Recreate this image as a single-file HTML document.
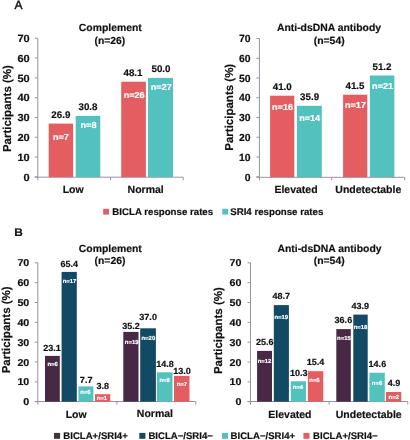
<!DOCTYPE html>
<html><head><meta charset="utf-8"><style>
html,body{margin:0;padding:0;background:#fff;width:410px;height:440px;overflow:hidden}
svg{display:block}
.w{will-change:transform;width:410px;height:440px}
text{font-family:"Liberation Sans",sans-serif;font-weight:bold;text-rendering:geometricPrecision;stroke-width:0.18px}
</style></head><body>
<div class="w"><svg width="410" height="440" viewBox="0 0 410 440">
<text x="18.6" y="9.2" font-size="12.0" text-anchor="middle" fill="#111" stroke="#111" style="font-weight:normal;stroke-width:0.45px">A</text>
<line x1="37.80" y1="38.30" x2="37.80" y2="180.20" stroke="#9a92a2" stroke-width="1"/>
<line x1="34.80" y1="177.20" x2="183.20" y2="177.20" stroke="#9a92a2" stroke-width="1"/>
<line x1="34.80" y1="176.80" x2="37.80" y2="176.80" stroke="#9a92a2" stroke-width="1"/>
<text transform="translate(29.70,180.52) scale(1.06,1)" font-size="10.4" text-anchor="end" fill="#111111" stroke="#111111" >0</text>
<line x1="34.80" y1="157.01" x2="37.80" y2="157.01" stroke="#9a92a2" stroke-width="1"/>
<text transform="translate(29.70,160.74) scale(1.06,1)" font-size="10.4" text-anchor="end" fill="#111111" stroke="#111111" >10</text>
<line x1="34.80" y1="137.23" x2="37.80" y2="137.23" stroke="#9a92a2" stroke-width="1"/>
<text transform="translate(29.70,140.95) scale(1.06,1)" font-size="10.4" text-anchor="end" fill="#111111" stroke="#111111" >20</text>
<line x1="34.80" y1="117.44" x2="37.80" y2="117.44" stroke="#9a92a2" stroke-width="1"/>
<text transform="translate(29.70,121.17) scale(1.06,1)" font-size="10.4" text-anchor="end" fill="#111111" stroke="#111111" >30</text>
<line x1="34.80" y1="97.66" x2="37.80" y2="97.66" stroke="#9a92a2" stroke-width="1"/>
<text transform="translate(29.70,101.38) scale(1.06,1)" font-size="10.4" text-anchor="end" fill="#111111" stroke="#111111" >40</text>
<line x1="34.80" y1="77.87" x2="37.80" y2="77.87" stroke="#9a92a2" stroke-width="1"/>
<text transform="translate(29.70,81.59) scale(1.06,1)" font-size="10.4" text-anchor="end" fill="#111111" stroke="#111111" >50</text>
<line x1="34.80" y1="58.09" x2="37.80" y2="58.09" stroke="#9a92a2" stroke-width="1"/>
<text transform="translate(29.70,61.81) scale(1.06,1)" font-size="10.4" text-anchor="end" fill="#111111" stroke="#111111" >60</text>
<line x1="34.80" y1="38.30" x2="37.80" y2="38.30" stroke="#9a92a2" stroke-width="1"/>
<text transform="translate(29.70,42.02) scale(1.06,1)" font-size="10.4" text-anchor="end" fill="#111111" stroke="#111111" >70</text>
<line x1="110.60" y1="177.20" x2="110.60" y2="180.20" stroke="#9a92a2" stroke-width="1"/>
<line x1="183.20" y1="177.20" x2="183.20" y2="180.20" stroke="#9a92a2" stroke-width="1"/>
<text x="0" y="0" font-size="11.5" text-anchor="middle" fill="#111111" stroke="#111111" transform="translate(11.00,108.60) rotate(-90)">Participants (%)</text>
<rect x="48.70" y="123.60" width="24.40" height="53.60" fill="#e45e61"/>
<rect x="75.70" y="115.90" width="24.60" height="61.30" fill="#53c2be"/>
<rect x="121.20" y="81.70" width="24.70" height="95.50" fill="#e45e61"/>
<rect x="148.00" y="77.90" width="25.00" height="99.30" fill="#53c2be"/>
<text transform="translate(60.85,117.90) scale(1.02,1)" font-size="9.6" text-anchor="middle" fill="#111111" stroke="#111111" >26.9</text>
<text transform="translate(88.00,109.90) scale(1.02,1)" font-size="9.6" text-anchor="middle" fill="#111111" stroke="#111111" >30.8</text>
<text transform="translate(133.00,75.80) scale(1.02,1)" font-size="9.6" text-anchor="middle" fill="#111111" stroke="#111111" >48.1</text>
<text transform="translate(161.00,72.10) scale(1.02,1)" font-size="9.6" text-anchor="middle" fill="#111111" stroke="#111111" >50.0</text>
<text transform="translate(60.90,139.90) scale(1.05,1)" font-size="8.7" text-anchor="middle" fill="#fff" stroke="#fff" >n=7</text>
<text transform="translate(88.50,128.10) scale(1.05,1)" font-size="8.7" text-anchor="middle" fill="#fff" stroke="#fff" >n=8</text>
<text transform="translate(134.15,98.40) scale(1.05,1)" font-size="8.7" text-anchor="middle" fill="#fff" stroke="#fff" >n=26</text>
<text transform="translate(161.30,90.30) scale(1.05,1)" font-size="8.7" text-anchor="middle" fill="#fff" stroke="#fff" >n=27</text>
<text x="110.30" y="30.80" font-size="10.4" text-anchor="middle" fill="#111111" stroke="#111111" >Complement</text>
<text x="109.90" y="43.50" font-size="10.4" text-anchor="middle" fill="#111111" stroke="#111111" >(n=26)</text>
<text x="73.20" y="192.90" font-size="10.5" text-anchor="middle" fill="#111111" stroke="#111111" >Low</text>
<text x="145.70" y="192.90" font-size="10.5" text-anchor="middle" fill="#111111" stroke="#111111" >Normal</text>
<line x1="259.40" y1="38.50" x2="259.40" y2="180.30" stroke="#9a92a2" stroke-width="1"/>
<line x1="256.40" y1="177.30" x2="404.70" y2="177.30" stroke="#9a92a2" stroke-width="1"/>
<line x1="256.40" y1="176.80" x2="259.40" y2="176.80" stroke="#9a92a2" stroke-width="1"/>
<text x="250.50" y="180.52" font-size="10.4" text-anchor="end" fill="#111111" stroke="#111111" >0</text>
<line x1="256.40" y1="157.04" x2="259.40" y2="157.04" stroke="#9a92a2" stroke-width="1"/>
<text x="250.50" y="160.77" font-size="10.4" text-anchor="end" fill="#111111" stroke="#111111" >10</text>
<line x1="256.40" y1="137.29" x2="259.40" y2="137.29" stroke="#9a92a2" stroke-width="1"/>
<text x="250.50" y="141.01" font-size="10.4" text-anchor="end" fill="#111111" stroke="#111111" >20</text>
<line x1="256.40" y1="117.53" x2="259.40" y2="117.53" stroke="#9a92a2" stroke-width="1"/>
<text x="250.50" y="121.25" font-size="10.4" text-anchor="end" fill="#111111" stroke="#111111" >30</text>
<line x1="256.40" y1="97.77" x2="259.40" y2="97.77" stroke="#9a92a2" stroke-width="1"/>
<text x="250.50" y="101.49" font-size="10.4" text-anchor="end" fill="#111111" stroke="#111111" >40</text>
<line x1="256.40" y1="78.01" x2="259.40" y2="78.01" stroke="#9a92a2" stroke-width="1"/>
<text x="250.50" y="81.74" font-size="10.4" text-anchor="end" fill="#111111" stroke="#111111" >50</text>
<line x1="256.40" y1="58.26" x2="259.40" y2="58.26" stroke="#9a92a2" stroke-width="1"/>
<text x="250.50" y="61.98" font-size="10.4" text-anchor="end" fill="#111111" stroke="#111111" >60</text>
<line x1="256.40" y1="38.50" x2="259.40" y2="38.50" stroke="#9a92a2" stroke-width="1"/>
<text x="250.50" y="42.22" font-size="10.4" text-anchor="end" fill="#111111" stroke="#111111" >70</text>
<line x1="331.70" y1="177.30" x2="331.70" y2="180.30" stroke="#9a92a2" stroke-width="1"/>
<line x1="404.70" y1="177.30" x2="404.70" y2="180.30" stroke="#9a92a2" stroke-width="1"/>
<text x="0" y="0" font-size="11.5" text-anchor="middle" fill="#111111" stroke="#111111" transform="translate(232.80,107.25) rotate(-90)">Participants (%)</text>
<rect x="270.10" y="95.70" width="24.20" height="81.50" fill="#e45e61"/>
<rect x="296.90" y="105.80" width="24.90" height="71.40" fill="#53c2be"/>
<rect x="343.10" y="94.70" width="24.20" height="82.50" fill="#e45e61"/>
<rect x="369.90" y="75.50" width="24.50" height="101.70" fill="#53c2be"/>
<text transform="translate(282.25,89.60) scale(1.02,1)" font-size="9.6" text-anchor="middle" fill="#111111" stroke="#111111" >41.0</text>
<text transform="translate(309.65,99.60) scale(1.02,1)" font-size="9.6" text-anchor="middle" fill="#111111" stroke="#111111" >35.9</text>
<text transform="translate(355.00,88.70) scale(1.02,1)" font-size="9.6" text-anchor="middle" fill="#111111" stroke="#111111" >41.5</text>
<text transform="translate(382.00,69.90) scale(1.02,1)" font-size="9.6" text-anchor="middle" fill="#111111" stroke="#111111" >51.2</text>
<text transform="translate(282.55,110.40) scale(1.05,1)" font-size="8.7" text-anchor="middle" fill="#fff" stroke="#fff" >n=16</text>
<text transform="translate(309.65,121.10) scale(1.05,1)" font-size="8.7" text-anchor="middle" fill="#fff" stroke="#fff" >n=14</text>
<text transform="translate(355.40,107.70) scale(1.05,1)" font-size="8.7" text-anchor="middle" fill="#fff" stroke="#fff" >n=17</text>
<text transform="translate(382.60,89.40) scale(1.05,1)" font-size="8.7" text-anchor="middle" fill="#fff" stroke="#fff" >n=21</text>
<text x="329.00" y="30.80" font-size="10.4" text-anchor="middle" fill="#111111" stroke="#111111" >Anti-dsDNA antibody</text>
<text x="329.20" y="43.50" font-size="10.4" text-anchor="middle" fill="#111111" stroke="#111111" >(n=54)</text>
<text x="296.00" y="192.80" font-size="10.5" text-anchor="middle" fill="#111111" stroke="#111111" >Elevated</text>
<text x="368.30" y="192.80" font-size="10.5" text-anchor="middle" fill="#111111" stroke="#111111" >Undetectable</text>
<rect x="103.20" y="208.80" width="5.80" height="5.80" fill="#e45e61"/>
<text x="112.30" y="215.20" font-size="9.7" text-anchor="start" fill="#111111" stroke="#111111" >BICLA response rates</text>
<rect x="222.30" y="208.80" width="5.80" height="5.80" fill="#53c2be"/>
<text x="230.20" y="215.20" font-size="9.7" text-anchor="start" fill="#111111" stroke="#111111" >SRI4 response rates</text>
<text transform="translate(18.50,236.10) scale(1.08,1)" font-size="11.0" text-anchor="middle" fill="#111111" stroke="#111111" >B</text>
<line x1="37.80" y1="262.80" x2="37.80" y2="404.50" stroke="#9a92a2" stroke-width="1"/>
<line x1="34.80" y1="401.50" x2="195.80" y2="401.50" stroke="#9a92a2" stroke-width="1"/>
<line x1="34.80" y1="401.70" x2="37.80" y2="401.70" stroke="#9a92a2" stroke-width="1"/>
<text transform="translate(29.30,405.28) scale(1.07,1)" font-size="10.0" text-anchor="end" fill="#111111" stroke="#111111" >0</text>
<line x1="34.80" y1="381.86" x2="37.80" y2="381.86" stroke="#9a92a2" stroke-width="1"/>
<text transform="translate(29.30,385.44) scale(1.07,1)" font-size="10.0" text-anchor="end" fill="#111111" stroke="#111111" >10</text>
<line x1="34.80" y1="362.01" x2="37.80" y2="362.01" stroke="#9a92a2" stroke-width="1"/>
<text transform="translate(29.30,365.59) scale(1.07,1)" font-size="10.0" text-anchor="end" fill="#111111" stroke="#111111" >20</text>
<line x1="34.80" y1="342.17" x2="37.80" y2="342.17" stroke="#9a92a2" stroke-width="1"/>
<text transform="translate(29.30,345.75) scale(1.07,1)" font-size="10.0" text-anchor="end" fill="#111111" stroke="#111111" >30</text>
<line x1="34.80" y1="322.33" x2="37.80" y2="322.33" stroke="#9a92a2" stroke-width="1"/>
<text transform="translate(29.30,325.91) scale(1.07,1)" font-size="10.0" text-anchor="end" fill="#111111" stroke="#111111" >40</text>
<line x1="34.80" y1="302.49" x2="37.80" y2="302.49" stroke="#9a92a2" stroke-width="1"/>
<text transform="translate(29.30,306.07) scale(1.07,1)" font-size="10.0" text-anchor="end" fill="#111111" stroke="#111111" >50</text>
<line x1="34.80" y1="282.64" x2="37.80" y2="282.64" stroke="#9a92a2" stroke-width="1"/>
<text transform="translate(29.30,286.22) scale(1.07,1)" font-size="10.0" text-anchor="end" fill="#111111" stroke="#111111" >60</text>
<line x1="34.80" y1="262.80" x2="37.80" y2="262.80" stroke="#9a92a2" stroke-width="1"/>
<text transform="translate(29.30,266.38) scale(1.07,1)" font-size="10.0" text-anchor="end" fill="#111111" stroke="#111111" >70</text>
<line x1="116.90" y1="401.50" x2="116.90" y2="404.50" stroke="#9a92a2" stroke-width="1"/>
<line x1="195.80" y1="401.50" x2="195.80" y2="404.50" stroke="#9a92a2" stroke-width="1"/>
<text x="0" y="0" font-size="11.5" text-anchor="middle" fill="#111111" stroke="#111111" transform="translate(9.70,329.85) rotate(-90)">Participants (%)</text>
<rect x="45.00" y="355.90" width="14.80" height="45.80" fill="#472845"/>
<rect x="61.60" y="271.90" width="15.20" height="129.80" fill="#124a66"/>
<rect x="78.50" y="386.40" width="14.90" height="15.30" fill="#53c2be"/>
<rect x="95.00" y="394.20" width="15.20" height="7.50" fill="#e45e61"/>
<rect x="123.30" y="331.90" width="15.20" height="69.80" fill="#472845"/>
<rect x="140.20" y="328.30" width="15.70" height="73.40" fill="#124a66"/>
<rect x="157.00" y="372.30" width="15.50" height="29.40" fill="#53c2be"/>
<rect x="174.00" y="375.90" width="15.50" height="25.80" fill="#e45e61"/>
<text transform="translate(52.00,350.90) scale(1.03,1)" font-size="8.8" text-anchor="middle" fill="#111111" stroke="#111111" >23.1</text>
<text transform="translate(69.20,266.50) scale(1.03,1)" font-size="8.8" text-anchor="middle" fill="#111111" stroke="#111111" >65.4</text>
<text transform="translate(86.15,382.70) scale(1.03,1)" font-size="8.8" text-anchor="middle" fill="#111111" stroke="#111111" >7.7</text>
<text transform="translate(102.85,388.70) scale(1.03,1)" font-size="8.8" text-anchor="middle" fill="#111111" stroke="#111111" >3.8</text>
<text transform="translate(131.00,328.70) scale(1.03,1)" font-size="8.8" text-anchor="middle" fill="#111111" stroke="#111111" >35.2</text>
<text transform="translate(148.10,320.10) scale(1.03,1)" font-size="8.8" text-anchor="middle" fill="#111111" stroke="#111111" >37.0</text>
<text transform="translate(165.00,366.50) scale(1.03,1)" font-size="8.8" text-anchor="middle" fill="#111111" stroke="#111111" >14.8</text>
<text transform="translate(182.00,373.90) scale(1.03,1)" font-size="8.8" text-anchor="middle" fill="#111111" stroke="#111111" >13.0</text>
<text transform="translate(52.65,365.90) scale(1.02,1)" font-size="5.85" text-anchor="middle" fill="#fff" stroke="#fff" >n=6</text>
<text transform="translate(69.50,282.50) scale(1.02,1)" font-size="5.85" text-anchor="middle" fill="#fff" stroke="#fff" >n=17</text>
<text transform="translate(85.35,394.40) scale(1.02,1)" font-size="5.85" text-anchor="middle" fill="#fff" stroke="#fff" >n=6</text>
<text transform="translate(101.85,399.80) scale(1.02,1)" font-size="5.85" text-anchor="middle" fill="#fff" stroke="#fff" >n=1</text>
<text transform="translate(131.70,344.10) scale(1.02,1)" font-size="5.85" text-anchor="middle" fill="#fff" stroke="#fff" >n=19</text>
<text transform="translate(148.35,339.90) scale(1.02,1)" font-size="5.85" text-anchor="middle" fill="#fff" stroke="#fff" >n=20</text>
<text transform="translate(164.60,382.10) scale(1.02,1)" font-size="5.85" text-anchor="middle" fill="#fff" stroke="#fff" >n=8</text>
<text transform="translate(181.90,386.00) scale(1.02,1)" font-size="5.85" text-anchor="middle" fill="#fff" stroke="#fff" >n=7</text>
<text x="110.30" y="251.50" font-size="10.4" text-anchor="middle" fill="#111111" stroke="#111111" >Complement</text>
<text x="110.00" y="264.20" font-size="10.4" text-anchor="middle" fill="#111111" stroke="#111111" >(n=26)</text>
<text x="76.20" y="417.60" font-size="10.5" text-anchor="middle" fill="#111111" stroke="#111111" >Low</text>
<text x="154.90" y="417.40" font-size="10.5" text-anchor="middle" fill="#111111" stroke="#111111" >Normal</text>
<line x1="250.50" y1="262.80" x2="250.50" y2="404.50" stroke="#9a92a2" stroke-width="1"/>
<line x1="247.50" y1="401.50" x2="407.80" y2="401.50" stroke="#9a92a2" stroke-width="1"/>
<line x1="247.50" y1="401.70" x2="250.50" y2="401.70" stroke="#9a92a2" stroke-width="1"/>
<text transform="translate(241.40,405.28) scale(1.07,1)" font-size="10.0" text-anchor="end" fill="#111111" stroke="#111111" >0</text>
<line x1="247.50" y1="381.86" x2="250.50" y2="381.86" stroke="#9a92a2" stroke-width="1"/>
<text transform="translate(241.40,385.44) scale(1.07,1)" font-size="10.0" text-anchor="end" fill="#111111" stroke="#111111" >10</text>
<line x1="247.50" y1="362.01" x2="250.50" y2="362.01" stroke="#9a92a2" stroke-width="1"/>
<text transform="translate(241.40,365.59) scale(1.07,1)" font-size="10.0" text-anchor="end" fill="#111111" stroke="#111111" >20</text>
<line x1="247.50" y1="342.17" x2="250.50" y2="342.17" stroke="#9a92a2" stroke-width="1"/>
<text transform="translate(241.40,345.75) scale(1.07,1)" font-size="10.0" text-anchor="end" fill="#111111" stroke="#111111" >30</text>
<line x1="247.50" y1="322.33" x2="250.50" y2="322.33" stroke="#9a92a2" stroke-width="1"/>
<text transform="translate(241.40,325.91) scale(1.07,1)" font-size="10.0" text-anchor="end" fill="#111111" stroke="#111111" >40</text>
<line x1="247.50" y1="302.49" x2="250.50" y2="302.49" stroke="#9a92a2" stroke-width="1"/>
<text transform="translate(241.40,306.07) scale(1.07,1)" font-size="10.0" text-anchor="end" fill="#111111" stroke="#111111" >50</text>
<line x1="247.50" y1="282.64" x2="250.50" y2="282.64" stroke="#9a92a2" stroke-width="1"/>
<text transform="translate(241.40,286.22) scale(1.07,1)" font-size="10.0" text-anchor="end" fill="#111111" stroke="#111111" >60</text>
<line x1="247.50" y1="262.80" x2="250.50" y2="262.80" stroke="#9a92a2" stroke-width="1"/>
<text transform="translate(241.40,266.38) scale(1.07,1)" font-size="10.0" text-anchor="end" fill="#111111" stroke="#111111" >70</text>
<line x1="329.10" y1="401.50" x2="329.10" y2="404.50" stroke="#9a92a2" stroke-width="1"/>
<line x1="407.80" y1="401.50" x2="407.80" y2="404.50" stroke="#9a92a2" stroke-width="1"/>
<text x="0" y="0" font-size="11.5" text-anchor="middle" fill="#111111" stroke="#111111" transform="translate(222.10,330.65) rotate(-90)">Participants (%)</text>
<rect x="257.10" y="350.90" width="14.90" height="50.80" fill="#472845"/>
<rect x="273.80" y="305.10" width="15.10" height="96.60" fill="#124a66"/>
<rect x="290.80" y="381.30" width="15.20" height="20.40" fill="#53c2be"/>
<rect x="307.90" y="371.20" width="15.40" height="30.50" fill="#e45e61"/>
<rect x="336.30" y="329.10" width="14.50" height="72.60" fill="#472845"/>
<rect x="353.30" y="314.60" width="14.40" height="87.10" fill="#124a66"/>
<rect x="369.40" y="372.70" width="15.40" height="29.00" fill="#53c2be"/>
<rect x="385.90" y="392.00" width="15.40" height="9.70" fill="#e45e61"/>
<text transform="translate(264.75,344.90) scale(1.03,1)" font-size="8.8" text-anchor="middle" fill="#111111" stroke="#111111" >25.6</text>
<text transform="translate(281.30,299.00) scale(1.03,1)" font-size="8.8" text-anchor="middle" fill="#111111" stroke="#111111" >48.7</text>
<text transform="translate(298.80,375.60) scale(1.03,1)" font-size="8.8" text-anchor="middle" fill="#111111" stroke="#111111" >10.3</text>
<text transform="translate(315.55,365.30) scale(1.03,1)" font-size="8.8" text-anchor="middle" fill="#111111" stroke="#111111" >15.4</text>
<text transform="translate(343.35,323.40) scale(1.03,1)" font-size="8.8" text-anchor="middle" fill="#111111" stroke="#111111" >36.6</text>
<text transform="translate(360.20,308.70) scale(1.03,1)" font-size="8.8" text-anchor="middle" fill="#111111" stroke="#111111" >43.9</text>
<text transform="translate(377.35,367.10) scale(1.03,1)" font-size="8.8" text-anchor="middle" fill="#111111" stroke="#111111" >14.6</text>
<text transform="translate(394.10,386.30) scale(1.03,1)" font-size="8.8" text-anchor="middle" fill="#111111" stroke="#111111" >4.9</text>
<text transform="translate(264.50,362.60) scale(1.02,1)" font-size="5.85" text-anchor="middle" fill="#fff" stroke="#fff" >n=12</text>
<text transform="translate(281.25,319.10) scale(1.02,1)" font-size="5.85" text-anchor="middle" fill="#fff" stroke="#fff" >n=19</text>
<text transform="translate(297.90,389.40) scale(1.02,1)" font-size="5.85" text-anchor="middle" fill="#fff" stroke="#fff" >n=4</text>
<text transform="translate(314.45,381.50) scale(1.02,1)" font-size="5.85" text-anchor="middle" fill="#fff" stroke="#fff" >n=6</text>
<text transform="translate(343.95,339.70) scale(1.02,1)" font-size="5.85" text-anchor="middle" fill="#fff" stroke="#fff" >n=15</text>
<text transform="translate(360.50,328.90) scale(1.02,1)" font-size="5.85" text-anchor="middle" fill="#fff" stroke="#fff" >n=18</text>
<text transform="translate(377.05,384.70) scale(1.02,1)" font-size="5.85" text-anchor="middle" fill="#fff" stroke="#fff" >n=6</text>
<text transform="translate(393.80,399.00) scale(1.02,1)" font-size="5.85" text-anchor="middle" fill="#fff" stroke="#fff" >n=2</text>
<text x="329.50" y="251.50" font-size="10.4" text-anchor="middle" fill="#111111" stroke="#111111" >Anti-dsDNA antibody</text>
<text x="329.20" y="264.20" font-size="10.4" text-anchor="middle" fill="#111111" stroke="#111111" >(n=54)</text>
<text x="289.90" y="417.70" font-size="10.5" text-anchor="middle" fill="#111111" stroke="#111111" >Elevated</text>
<text x="368.70" y="417.60" font-size="10.5" text-anchor="middle" fill="#111111" stroke="#111111" >Undetectable</text>
<rect x="54.00" y="432.90" width="6.10" height="5.90" fill="#3d3538"/>
<text x="63.30" y="439.00" font-size="9.6" text-anchor="start" fill="#111111" stroke="#111111" >BICLA+/SRI4+</text>
<rect x="139.30" y="432.90" width="6.10" height="5.90" fill="#124a66"/>
<text x="148.40" y="439.00" font-size="9.6" text-anchor="start" fill="#111111" stroke="#111111" >BICLA&#8722;/SRI4&#8722;</text>
<rect x="222.00" y="432.90" width="6.10" height="5.90" fill="#53c2be"/>
<text x="230.60" y="439.00" font-size="9.6" text-anchor="start" fill="#111111" stroke="#111111" >BICLA&#8722;/SRI4+</text>
<rect x="303.40" y="432.90" width="6.10" height="5.90" fill="#e45e61"/>
<text x="313.10" y="439.00" font-size="9.6" text-anchor="start" fill="#111111" stroke="#111111" >BICLA+/SRI4&#8722;</text>
</svg></div>
</body></html>
